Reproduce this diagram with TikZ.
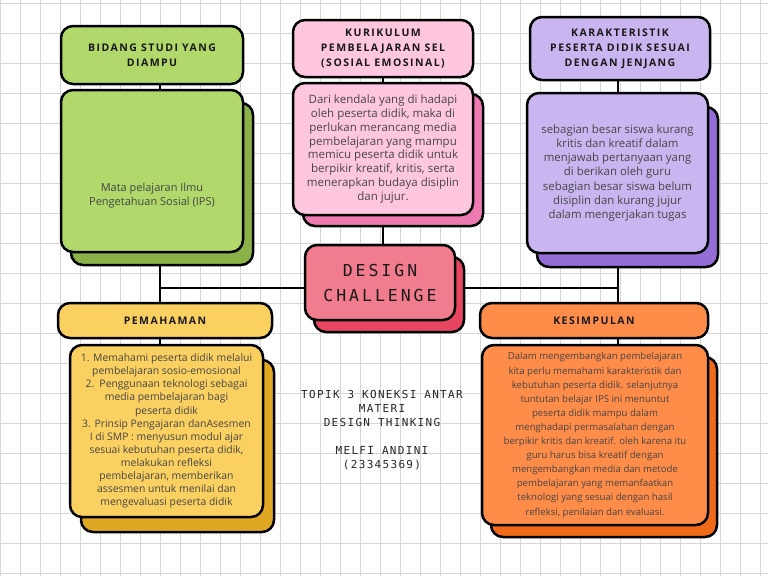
\documentclass[tikz,border=0pt]{standalone}
\usepackage{fontspec}
\setmainfont{Open Sans}
\newfontfamily\hdfont[LetterSpace=14]{Open Sans}
\newfontfamily\dcfont[LetterSpace=18]{DejaVu Sans Mono}
\newfontfamily\tpfont[LetterSpace=12]{DejaVu Sans Mono}
\usetikzlibrary{shadows,backgrounds,calc}
\definecolor{gridc}{HTML}{D6D6D6}
\definecolor{txt}{HTML}{454545}
\definecolor{greenF}{HTML}{B0D86A}
\definecolor{greenS}{HTML}{8AB248}
\definecolor{pinkF}{HTML}{FFC6E0}
\definecolor{pinkS}{HTML}{EE7AB2}
\definecolor{purpF}{HTML}{C9B6F0}
\definecolor{purpS}{HTML}{946ED6}
\definecolor{redF}{HTML}{F07C8E}
\definecolor{redS}{HTML}{E84560}
\definecolor{yelF}{HTML}{FAD060}
\definecolor{yelS}{HTML}{E0A822}
\definecolor{oraF}{HTML}{FF8C48}
\definecolor{oraS}{HTML}{F06A1A}
\tikzset{
  box/.style={draw=black, line width=2.5pt, rounded corners=12pt, align=center, inner sep=0pt},
  hd/.style={box, font=\hdfont\bfseries\fontsize{10.5}{15}\selectfont, text=black!90},
  bd/.style={box, text=txt},
  conn/.style={draw=black, line width=2.5pt},
  gridline/.style={draw=gridc, line width=0.5pt}
}
\begin{document}
\begin{tikzpicture}[x=1pt,y=-1pt]
\useasboundingbox (0,0) rectangle (768,576);

% headers
\node[hd, fill=greenF, minimum width=182pt, minimum height=58pt] (hGreen) at (152,55) {BIDANG STUDI YANG\\DIAMPU};
\node[hd, fill=pinkF, minimum width=180pt, minimum height=57pt] (hPink) at (383,48.5) {KURIKULUM\\PEMBELAJARAN SEL\\(SOSIAL EMOSINAL)};
\node[hd, fill=purpF, minimum width=180pt, minimum height=63pt] (hPurple) at (620,48.5) {KARAKTERISTIK\\PESERTA DIDIK SESUAI\\DENGAN JENJANG};
\node[hd, fill=yelF, minimum width=214pt, minimum height=35pt] (hYellow) at (165,320.5) {PEMAHAMAN};
\node[hd, fill=oraF, minimum width=228pt, minimum height=35pt] (hOrange) at (594,320.5) {KESIMPULAN};

% bodies
\node[bd, fill=greenF, copy shadow={shadow xshift=10pt, shadow yshift=-13pt, fill=greenS, draw=black, line width=2.5pt},
  minimum width=182pt, minimum height=162pt, font=\fontsize{11}{13.5}\selectfont] (bGreen) at (152,171)
  {\mbox{}\\[44pt]Mata pelajaran Ilmu\\Pengetahuan Sosial (IPS)};
\node[bd, fill=pinkF, copy shadow={shadow xshift=10pt, shadow yshift=-11pt, fill=pinkS, draw=black, line width=2.5pt},
  minimum width=180pt, minimum height=132pt, font=\fontsize{11.5}{13.9}\selectfont] (bPink) at (383,149)
  {Dari kendala yang di hadapi\\oleh peserta didik, maka di\\perlukan merancang media\\pembelajaran yang mampu\\memicu peserta didik untuk\\berpikir kreatif, kritis, serta\\menerapkan budaya disiplin\\dan jujur.};
\node[bd, fill=purpF, copy shadow={shadow xshift=10pt, shadow yshift=-14pt, fill=purpS, draw=black, line width=2.5pt},
  minimum width=181pt, minimum height=160pt, font=\fontsize{11.4}{14.2}\selectfont] (bPurple) at (617.5,173)
  {sebagian besar siswa kurang\\kritis dan kreatif dalam\\menjawab pertanyaan yang\\di berikan oleh guru\\sebagian besar siswa belum\\disiplin dan kurang jujur\\dalam mengerjakan tugas};
\node[box, fill=redF, copy shadow={shadow xshift=9pt, shadow yshift=-12pt, fill=redS, draw=black, line width=2.5pt},
  minimum width=150pt, minimum height=75pt, font=\dcfont\fontsize{16.5}{25}\selectfont, text=black!90] (design) at (380,282.5)
  {DESIGN\\CHALLENGE};
\node[bd, fill=yelF, copy shadow={shadow xshift=11pt, shadow yshift=-15pt, fill=yelS, draw=black, line width=2.5pt},
  minimum width=193pt, minimum height=172pt, font=\fontsize{10.4}{13.1}\selectfont] (bYellow) at (166.5,431)
  {1. Memahami peserta didik melalui\\pembelajaran sosio-emosional\\2.\enspace Penggunaan teknologi sebagai\\media pembelajaran bagi\\peserta didik\\3. Prinsip Pengajaran danAsesmen\\I di SMP : menyusun modul ajar\\sesuai kebutuhan peserta didik,\\melakukan refleksi\\pembelajaran, memberikan\\assesmen untuk menilai dan\\mengevaluasi peserta didik};
\node[bd, fill=oraF, copy shadow={shadow xshift=9pt, shadow yshift=-12pt, fill=oraS, draw=black, line width=2.5pt},
  minimum width=226pt, minimum height=180pt, font=\fontsize{9.6}{14.1}\selectfont] (bOrange) at (595,435)
  {Dalam mengembangkan pembelajaran\\kita perlu memahami karakteristik dan\\kebutuhan peserta didik. selanjutnya\\tuntutan belajar IPS ini menuntut\\peserta didik mampu dalam\\menghadapi permasalahan dengan\\berpikir kritis dan kreatif. oleh karena itu\\guru harus bisa kreatif dengan\\mengembangkan media dan metode\\pembelajaran yang memanfaatkan\\teknologi yang sesuai dengan hasil\\refleksi, penilaian dan evaluasi.};

% centre text
\node[align=center, font=\tpfont\fontsize{11}{14}\selectfont, text=black!85] (topic) at (382,430)
  {TOPIK 3 KONEKSI ANTAR\\MATERI\\DESIGN THINKING\\[14pt]MELFI ANDINI\\(23345369)};

\coordinate (jL) at (160,288);
\coordinate (jR) at (618,288);

\begin{pgfonlayer}{background}
  \fill[white] (0,0) rectangle (768,576);
  \foreach \gx in {0,20,...,760} \draw[gridline] (\gx,0) -- (\gx,576);
  \foreach \gy in {3,33,...,573} \draw[gridline] (0,\gy) -- (768,\gy);
  \draw[conn] (hGreen.south -| jL) -- (bGreen.north -| jL);
  \draw[conn] (bGreen.south -| jL) -- (hYellow.north -| jL);
  \draw[conn] (hYellow.south -| jL) -- (bYellow.north -| jL);
  \draw[conn] (jL) -- (design.west |- jL);
  \draw[conn] (hPink.south) -- (bPink.north);
  \draw[conn] (bPink.south) -- (bPink.south |- design.north);
  \draw[conn] (hPurple.south -| jR) -- (bPurple.north -| jR);
  \draw[conn] (bPurple.south -| jR) -- (hOrange.north -| jR);
  \draw[conn] (design.east |- jR) -- (jR);
  \draw[conn] (hOrange.south -| jR) -- (bOrange.north -| jR);
\end{pgfonlayer}
\end{tikzpicture}
\end{document}
